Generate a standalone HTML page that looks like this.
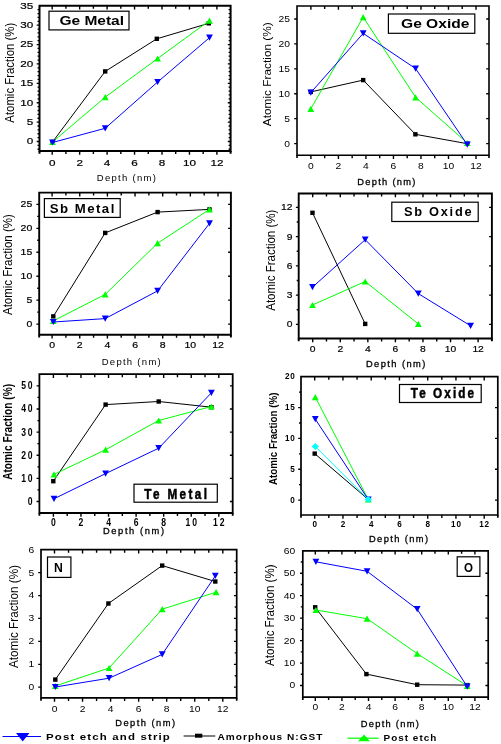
<!DOCTYPE html>
<html><head><meta charset="utf-8"><style>
html,body{margin:0;padding:0;background:#fff;}
body{width:501px;height:744px;overflow:hidden;}
svg{display:block;filter:blur(0.35px);}
text{font-family:"Liberation Sans",sans-serif;fill:#000;}
</style></head><body>
<svg width="501" height="744" viewBox="0 0 501 744">
<rect width="501" height="744" fill="#fff"/>
<path d="M39.5 5.8H230.6V151H39.5Z" fill="none" stroke="#000" stroke-width="2.0"/>
<path d="M39.5 151v2.8M230.6 151v2.8" stroke="#000" stroke-width="2.0"/>
<path d="M52.2 151v3.8 M52.2 5.8v3.8 M65.92 151v3.0 M65.92 5.8v3.0 M79.65 151v3.8 M79.65 5.8v3.8 M93.38 151v3.0 M93.38 5.8v3.0 M107.1 151v3.8 M107.1 5.8v3.8 M120.83 151v3.0 M120.83 5.8v3.0 M134.55 151v3.8 M134.55 5.8v3.8 M148.28 151v3.0 M148.28 5.8v3.0 M162 151v3.8 M162 5.8v3.8 M175.72 151v3.0 M175.72 5.8v3.0 M189.45 151v3.8 M189.45 5.8v3.8 M203.18 151v3.0 M203.18 5.8v3.0 M216.9 151v3.8 M216.9 5.8v3.8" stroke="#000" stroke-width="1.4"/>
<path d="M39.5 149.25h-2.0 M39.5 145.38h-2.0 M39.5 141.5h-2.8 M39.5 137.62h-2.0 M39.5 133.75h-2.0 M39.5 129.87h-2.0 M39.5 125.99h-2.0 M39.5 122.11h-2.8 M39.5 118.24h-2.0 M39.5 114.36h-2.0 M39.5 110.48h-2.0 M39.5 106.61h-2.0 M39.5 102.73h-2.8 M39.5 98.85h-2.0 M39.5 94.97h-2.0 M39.5 91.1h-2.0 M39.5 87.22h-2.0 M39.5 83.34h-2.8 M39.5 79.47h-2.0 M39.5 75.59h-2.0 M39.5 71.71h-2.0 M39.5 67.83h-2.0 M39.5 63.96h-2.8 M39.5 60.08h-2.0 M39.5 56.2h-2.0 M39.5 52.33h-2.0 M39.5 48.45h-2.0 M39.5 44.57h-2.8 M39.5 40.69h-2.0 M39.5 36.82h-2.0 M39.5 32.94h-2.0 M39.5 29.06h-2.0 M39.5 25.19h-2.8 M39.5 21.31h-2.0 M39.5 17.43h-2.0 M39.5 13.55h-2.0 M39.5 9.68h-2.0 M230.6 149.25h-2.0 M230.6 145.38h-2.0 M230.6 141.5h-2.8 M230.6 137.62h-2.0 M230.6 133.75h-2.0 M230.6 129.87h-2.0 M230.6 125.99h-2.0 M230.6 122.11h-2.8 M230.6 118.24h-2.0 M230.6 114.36h-2.0 M230.6 110.48h-2.0 M230.6 106.61h-2.0 M230.6 102.73h-2.8 M230.6 98.85h-2.0 M230.6 94.97h-2.0 M230.6 91.1h-2.0 M230.6 87.22h-2.0 M230.6 83.34h-2.8 M230.6 79.47h-2.0 M230.6 75.59h-2.0 M230.6 71.71h-2.0 M230.6 67.83h-2.0 M230.6 63.96h-2.8 M230.6 60.08h-2.0 M230.6 56.2h-2.0 M230.6 52.33h-2.0 M230.6 48.45h-2.0 M230.6 44.57h-2.8 M230.6 40.69h-2.0 M230.6 36.82h-2.0 M230.6 32.94h-2.0 M230.6 29.06h-2.0 M230.6 25.19h-2.8 M230.6 21.31h-2.0 M230.6 17.43h-2.0 M230.6 13.55h-2.0 M230.6 9.68h-2.0" stroke="#000" stroke-width="1.3"/>
<text transform="translate(33.3 144.4) scale(1.22 1)" text-anchor="end" style="font-size:9.6px;font-weight:normal;stroke:#000;stroke-width:0.2px;">0</text>
<text transform="translate(33.3 125.01) scale(1.22 1)" text-anchor="end" style="font-size:9.6px;font-weight:normal;stroke:#000;stroke-width:0.2px;">5</text>
<text transform="translate(33.3 105.63) scale(1.22 1)" text-anchor="end" style="font-size:9.6px;font-weight:normal;stroke:#000;stroke-width:0.2px;">10</text>
<text transform="translate(33.3 86.24) scale(1.22 1)" text-anchor="end" style="font-size:9.6px;font-weight:normal;stroke:#000;stroke-width:0.2px;">15</text>
<text transform="translate(33.3 66.86) scale(1.22 1)" text-anchor="end" style="font-size:9.6px;font-weight:normal;stroke:#000;stroke-width:0.2px;">20</text>
<text transform="translate(33.3 47.47) scale(1.22 1)" text-anchor="end" style="font-size:9.6px;font-weight:normal;stroke:#000;stroke-width:0.2px;">25</text>
<text transform="translate(33.3 28.09) scale(1.22 1)" text-anchor="end" style="font-size:9.6px;font-weight:normal;stroke:#000;stroke-width:0.2px;">30</text>
<text transform="translate(33.3 8.7) scale(1.22 1)" text-anchor="end" style="font-size:9.6px;font-weight:normal;stroke:#000;stroke-width:0.2px;">35</text>
<text transform="translate(52.2 165.5) scale(1.22 1)" text-anchor="middle" style="font-size:9.6px;font-weight:normal;stroke:#000;stroke-width:0.2px;">0</text>
<text transform="translate(79.65 165.5) scale(1.22 1)" text-anchor="middle" style="font-size:9.6px;font-weight:normal;stroke:#000;stroke-width:0.2px;">2</text>
<text transform="translate(107.1 165.5) scale(1.22 1)" text-anchor="middle" style="font-size:9.6px;font-weight:normal;stroke:#000;stroke-width:0.2px;">4</text>
<text transform="translate(134.55 165.5) scale(1.22 1)" text-anchor="middle" style="font-size:9.6px;font-weight:normal;stroke:#000;stroke-width:0.2px;">6</text>
<text transform="translate(162 165.5) scale(1.22 1)" text-anchor="middle" style="font-size:9.6px;font-weight:normal;stroke:#000;stroke-width:0.2px;">8</text>
<text transform="translate(189.45 165.5) scale(1.22 1)" text-anchor="middle" style="font-size:9.6px;font-weight:normal;stroke:#000;stroke-width:0.2px;">10</text>
<text transform="translate(216.9 165.5) scale(1.22 1)" text-anchor="middle" style="font-size:9.6px;font-weight:normal;stroke:#000;stroke-width:0.2px;">12</text>
<text transform="translate(10.2 72.75) rotate(-90)" x="0" y="3.6" text-anchor="middle" textLength="99.9" lengthAdjust="spacingAndGlyphs" style="font-size:12px;font-weight:normal">Atomic Fraction (%)</text>
<text x="126.3" y="181.2" text-anchor="middle" textLength="59" lengthAdjust="spacing" style="font-size:9.5px;font-weight:normal">Depth (nm)</text>
<path d="M52.5 142 L105.2 71.4 L156.8 38.8 L208.8 23.3" fill="none" stroke="#000" stroke-width="1.0"/>
<rect x="50.3" y="139.8" width="4.4" height="4.4" fill="#000"/>
<rect x="103" y="69.2" width="4.4" height="4.4" fill="#000"/>
<rect x="154.6" y="36.6" width="4.4" height="4.4" fill="#000"/>
<rect x="206.6" y="21.1" width="4.4" height="4.4" fill="#000"/>
<path d="M52.5 142 L105.2 97.2 L157.6 58.5 L209.5 20.6" fill="none" stroke="#00ff00" stroke-width="1.0"/>
<path d="M49.1 145.1L55.9 145.1L52.5 138.9Z" fill="#00ff00"/>
<path d="M101.8 100.3L108.6 100.3L105.2 94.1Z" fill="#00ff00"/>
<path d="M154.2 61.6L161 61.6L157.6 55.4Z" fill="#00ff00"/>
<path d="M206.1 23.7L212.9 23.7L209.5 17.5Z" fill="#00ff00"/>
<path d="M52.5 142.5 L105.2 128.3 L157.6 82 L209.5 37.7" fill="none" stroke="#0000ff" stroke-width="1.0"/>
<path d="M49.1 139.4L55.9 139.4L52.5 145.6Z" fill="#0000ff"/>
<path d="M101.8 125.2L108.6 125.2L105.2 131.4Z" fill="#0000ff"/>
<path d="M154.2 78.9L161 78.9L157.6 85.1Z" fill="#0000ff"/>
<path d="M206.1 34.6L212.9 34.6L209.5 40.8Z" fill="#0000ff"/>
<rect x="49" y="11.2" width="80" height="18.7" fill="#fff" stroke="#000" stroke-width="1.2"/>
<text transform="translate(91.7 25.4) scale(1 1)" text-anchor="middle" textLength="64.6" lengthAdjust="spacingAndGlyphs" style="font-size:13px;font-weight:bold;">Ge Metal</text>
<path d="M297 6H489V155.3H297Z" fill="none" stroke="#000" stroke-width="1.6"/>
<path d="M297 155.3v2.8M489 155.3v2.8" stroke="#000" stroke-width="1.6"/>
<path d="M310.9 155.3v3.8 M310.9 6v3.8 M324.66 155.3v3.0 M324.66 6v3.0 M338.42 155.3v3.8 M338.42 6v3.8 M352.17 155.3v3.0 M352.17 6v3.0 M365.93 155.3v3.8 M365.93 6v3.8 M379.69 155.3v3.0 M379.69 6v3.0 M393.45 155.3v3.8 M393.45 6v3.8 M407.21 155.3v3.0 M407.21 6v3.0 M420.97 155.3v3.8 M420.97 6v3.8 M434.73 155.3v3.0 M434.73 6v3.0 M448.48 155.3v3.8 M448.48 6v3.8 M462.24 155.3v3.0 M462.24 6v3.0 M476 155.3v3.8 M476 6v3.8" stroke="#000" stroke-width="1.4"/>
<path d="M297 143.6h-2.8 M297 118.68h-2.8 M297 93.76h-2.8 M297 68.84h-2.8 M297 43.92h-2.8 M297 19h-2.8 M489 143.6h-2.8 M489 118.68h-2.8 M489 93.76h-2.8 M489 68.84h-2.8 M489 43.92h-2.8 M489 19h-2.8" stroke="#000" stroke-width="1.3"/>
<text transform="translate(290 146.5) scale(1.12 1)" text-anchor="end" style="font-size:9.2px;font-weight:normal;">0</text>
<text transform="translate(290 121.58) scale(1.12 1)" text-anchor="end" style="font-size:9.2px;font-weight:normal;">5</text>
<text transform="translate(290 96.66) scale(1.12 1)" text-anchor="end" style="font-size:9.2px;font-weight:normal;">10</text>
<text transform="translate(290 71.74) scale(1.12 1)" text-anchor="end" style="font-size:9.2px;font-weight:normal;">15</text>
<text transform="translate(290 46.82) scale(1.12 1)" text-anchor="end" style="font-size:9.2px;font-weight:normal;">20</text>
<text transform="translate(290 21.9) scale(1.12 1)" text-anchor="end" style="font-size:9.2px;font-weight:normal;">25</text>
<text transform="translate(310.9 169) scale(1.12 1)" text-anchor="middle" style="font-size:9.2px;font-weight:normal;">0</text>
<text transform="translate(338.42 169) scale(1.12 1)" text-anchor="middle" style="font-size:9.2px;font-weight:normal;">2</text>
<text transform="translate(365.93 169) scale(1.12 1)" text-anchor="middle" style="font-size:9.2px;font-weight:normal;">4</text>
<text transform="translate(393.45 169) scale(1.12 1)" text-anchor="middle" style="font-size:9.2px;font-weight:normal;">6</text>
<text transform="translate(420.97 169) scale(1.12 1)" text-anchor="middle" style="font-size:9.2px;font-weight:normal;">8</text>
<text transform="translate(448.48 169) scale(1.12 1)" text-anchor="middle" style="font-size:9.2px;font-weight:normal;">10</text>
<text transform="translate(476 169) scale(1.12 1)" text-anchor="middle" style="font-size:9.2px;font-weight:normal;">12</text>
<text transform="translate(267.2 74.2) rotate(-90)" x="0" y="3.39" text-anchor="middle" textLength="104" lengthAdjust="spacingAndGlyphs" style="font-size:11.3px;font-weight:normal">Atomic Fraction (%)</text>
<text x="386.3" y="184.5" text-anchor="middle" textLength="58.3" lengthAdjust="spacing" style="font-size:9.3px;font-weight:normal;stroke:#000;stroke-width:0.3px">Depth (nm)</text>
<path d="M310.8 91.9 L363.2 80.1 L415.4 134.3 L467.3 143.7" fill="none" stroke="#000" stroke-width="1.0"/>
<rect x="308.6" y="89.7" width="4.4" height="4.4" fill="#000"/>
<rect x="361" y="77.9" width="4.4" height="4.4" fill="#000"/>
<rect x="413.2" y="132.1" width="4.4" height="4.4" fill="#000"/>
<rect x="465.1" y="141.5" width="4.4" height="4.4" fill="#000"/>
<path d="M310.8 108.8 L363.2 17.2 L415.6 97.3 L467.3 143" fill="none" stroke="#00ff00" stroke-width="1.0"/>
<path d="M307.4 111.9L314.2 111.9L310.8 105.7Z" fill="#00ff00"/>
<path d="M359.8 20.3L366.6 20.3L363.2 14.1Z" fill="#00ff00"/>
<path d="M412.2 100.4L419 100.4L415.6 94.2Z" fill="#00ff00"/>
<path d="M463.9 146.1L470.7 146.1L467.3 139.9Z" fill="#00ff00"/>
<path d="M310.8 92.6 L363.2 33.4 L415.6 68.6 L467.3 144.7" fill="none" stroke="#0000ff" stroke-width="1.0"/>
<path d="M307.4 89.5L314.2 89.5L310.8 95.7Z" fill="#0000ff"/>
<path d="M359.8 30.3L366.6 30.3L363.2 36.5Z" fill="#0000ff"/>
<path d="M412.2 65.5L419 65.5L415.6 71.7Z" fill="#0000ff"/>
<path d="M463.9 141.6L470.7 141.6L467.3 147.8Z" fill="#0000ff"/>
<rect x="388.4" y="14" width="86.4" height="19.3" fill="#fff" stroke="#000" stroke-width="1.2"/>
<text transform="translate(435.2 28) scale(1 1)" text-anchor="middle" textLength="68.4" lengthAdjust="spacingAndGlyphs" style="font-size:13px;font-weight:bold;">Ge Oxide</text>
<path d="M39.2 192.6H230.9V334.8H39.2Z" fill="none" stroke="#000" stroke-width="1.9"/>
<path d="M39.2 334.8v2.8M230.9 334.8v2.8" stroke="#000" stroke-width="1.9"/>
<path d="M52.1 334.8v3.8 M52.1 192.6v3.8 M65.92 334.8v3.0 M65.92 192.6v3.0 M79.75 334.8v3.8 M79.75 192.6v3.8 M93.58 334.8v3.0 M93.58 192.6v3.0 M107.4 334.8v3.8 M107.4 192.6v3.8 M121.22 334.8v3.0 M121.22 192.6v3.0 M135.05 334.8v3.8 M135.05 192.6v3.8 M148.88 334.8v3.0 M148.88 192.6v3.0 M162.7 334.8v3.8 M162.7 192.6v3.8 M176.53 334.8v3.0 M176.53 192.6v3.0 M190.35 334.8v3.8 M190.35 192.6v3.8 M204.18 334.8v3.0 M204.18 192.6v3.0 M218 334.8v3.8 M218 192.6v3.8" stroke="#000" stroke-width="1.4"/>
<path d="M39.2 324.2h-2.8 M39.2 312.21h-2.0 M39.2 300.22h-2.8 M39.2 288.23h-2.0 M39.2 276.24h-2.8 M39.2 264.25h-2.0 M39.2 252.26h-2.8 M39.2 240.27h-2.0 M39.2 228.28h-2.8 M39.2 216.29h-2.0 M39.2 204.3h-2.8 M230.9 324.2h-2.8 M230.9 300.22h-2.8 M230.9 276.24h-2.8 M230.9 252.26h-2.8 M230.9 228.28h-2.8 M230.9 204.3h-2.8" stroke="#000" stroke-width="1.3"/>
<text transform="translate(32.3 327.1) scale(1.12 1)" text-anchor="end" style="font-size:9.4px;font-weight:normal;stroke:#000;stroke-width:0.2px;">0</text>
<text transform="translate(32.3 303.12) scale(1.12 1)" text-anchor="end" style="font-size:9.4px;font-weight:normal;stroke:#000;stroke-width:0.2px;">5</text>
<text transform="translate(32.3 279.14) scale(1.12 1)" text-anchor="end" style="font-size:9.4px;font-weight:normal;stroke:#000;stroke-width:0.2px;">10</text>
<text transform="translate(32.3 255.16) scale(1.12 1)" text-anchor="end" style="font-size:9.4px;font-weight:normal;stroke:#000;stroke-width:0.2px;">15</text>
<text transform="translate(32.3 231.18) scale(1.12 1)" text-anchor="end" style="font-size:9.4px;font-weight:normal;stroke:#000;stroke-width:0.2px;">20</text>
<text transform="translate(32.3 207.2) scale(1.12 1)" text-anchor="end" style="font-size:9.4px;font-weight:normal;stroke:#000;stroke-width:0.2px;">25</text>
<text transform="translate(52.1 348.3) scale(1.12 1)" text-anchor="middle" style="font-size:9.4px;font-weight:normal;stroke:#000;stroke-width:0.2px;">0</text>
<text transform="translate(79.75 348.3) scale(1.12 1)" text-anchor="middle" style="font-size:9.4px;font-weight:normal;stroke:#000;stroke-width:0.2px;">2</text>
<text transform="translate(107.4 348.3) scale(1.12 1)" text-anchor="middle" style="font-size:9.4px;font-weight:normal;stroke:#000;stroke-width:0.2px;">4</text>
<text transform="translate(135.05 348.3) scale(1.12 1)" text-anchor="middle" style="font-size:9.4px;font-weight:normal;stroke:#000;stroke-width:0.2px;">6</text>
<text transform="translate(162.7 348.3) scale(1.12 1)" text-anchor="middle" style="font-size:9.4px;font-weight:normal;stroke:#000;stroke-width:0.2px;">8</text>
<text transform="translate(190.35 348.3) scale(1.12 1)" text-anchor="middle" style="font-size:9.4px;font-weight:normal;stroke:#000;stroke-width:0.2px;">10</text>
<text transform="translate(218 348.3) scale(1.12 1)" text-anchor="middle" style="font-size:9.4px;font-weight:normal;stroke:#000;stroke-width:0.2px;">12</text>
<text transform="translate(8.7 264.6) rotate(-90)" x="0" y="3.6" text-anchor="middle" textLength="100.8" lengthAdjust="spacingAndGlyphs" style="font-size:12px;font-weight:normal">Atomic Fraction (%)</text>
<text x="131.2" y="364.8" text-anchor="middle" textLength="59.1" lengthAdjust="spacing" style="font-size:9.5px;font-weight:normal">Depth (nm)</text>
<path d="M53.3 316.4 L105.2 232.9 L157.6 212.1 L209.5 209.4" fill="none" stroke="#000" stroke-width="1.0"/>
<rect x="51.1" y="314.2" width="4.4" height="4.4" fill="#000"/>
<rect x="103" y="230.7" width="4.4" height="4.4" fill="#000"/>
<rect x="155.4" y="209.9" width="4.4" height="4.4" fill="#000"/>
<rect x="207.3" y="207.2" width="4.4" height="4.4" fill="#000"/>
<path d="M53.3 320.9 L105.2 294.4 L157.6 243.2 L209.5 209.4" fill="none" stroke="#00ff00" stroke-width="1.0"/>
<path d="M49.9 324L56.7 324L53.3 317.8Z" fill="#00ff00"/>
<path d="M101.8 297.5L108.6 297.5L105.2 291.3Z" fill="#00ff00"/>
<path d="M154.2 246.3L161 246.3L157.6 240.1Z" fill="#00ff00"/>
<path d="M206.1 212.5L212.9 212.5L209.5 206.3Z" fill="#00ff00"/>
<path d="M53.3 322 L105.2 318.6 L157.6 290.9 L209.5 223.4" fill="none" stroke="#0000ff" stroke-width="1.0"/>
<path d="M49.9 318.9L56.7 318.9L53.3 325.1Z" fill="#0000ff"/>
<path d="M101.8 315.5L108.6 315.5L105.2 321.7Z" fill="#0000ff"/>
<path d="M154.2 287.8L161 287.8L157.6 294Z" fill="#0000ff"/>
<path d="M206.1 220.3L212.9 220.3L209.5 226.5Z" fill="#0000ff"/>
<rect x="44.4" y="198.6" width="75.8" height="18.8" fill="#fff" stroke="#000" stroke-width="1.2"/>
<text transform="translate(82.1 212.6) scale(1 1)" text-anchor="middle" textLength="64.5" lengthAdjust="spacing" style="font-size:13.2px;font-weight:bold;">Sb Metal</text>
<path d="M298.7 193.5H491.9V338.5H298.7Z" fill="none" stroke="#000" stroke-width="1.9"/>
<path d="M298.7 338.5v2.8M491.9 338.5v2.8" stroke="#000" stroke-width="1.9"/>
<path d="M312.7 338.5v3.8 M312.7 193.5v3.8 M326.48 338.5v3.0 M326.48 193.5v3.0 M340.27 338.5v3.8 M340.27 193.5v3.8 M354.05 338.5v3.0 M354.05 193.5v3.0 M367.83 338.5v3.8 M367.83 193.5v3.8 M381.62 338.5v3.0 M381.62 193.5v3.0 M395.4 338.5v3.8 M395.4 193.5v3.8 M409.18 338.5v3.0 M409.18 193.5v3.0 M422.97 338.5v3.8 M422.97 193.5v3.8 M436.75 338.5v3.0 M436.75 193.5v3.0 M450.53 338.5v3.8 M450.53 193.5v3.8 M464.32 338.5v3.0 M464.32 193.5v3.0 M478.1 338.5v3.8 M478.1 193.5v3.8" stroke="#000" stroke-width="1.4"/>
<path d="M298.7 324.4h-2.8 M298.7 309.77h-2.0 M298.7 295.15h-2.8 M298.7 280.52h-2.0 M298.7 265.9h-2.8 M298.7 251.27h-2.0 M298.7 236.65h-2.8 M298.7 222.02h-2.0 M298.7 207.4h-2.8 M491.9 324.4h-2.8 M491.9 295.15h-2.8 M491.9 265.9h-2.8 M491.9 236.65h-2.8 M491.9 207.4h-2.8" stroke="#000" stroke-width="1.3"/>
<text transform="translate(292.5 327.3) scale(1.12 1)" text-anchor="end" style="font-size:9.2px;font-weight:normal;stroke:#000;stroke-width:0.2px;">0</text>
<text transform="translate(292.5 298.05) scale(1.12 1)" text-anchor="end" style="font-size:9.2px;font-weight:normal;stroke:#000;stroke-width:0.2px;">3</text>
<text transform="translate(292.5 268.8) scale(1.12 1)" text-anchor="end" style="font-size:9.2px;font-weight:normal;stroke:#000;stroke-width:0.2px;">6</text>
<text transform="translate(292.5 239.55) scale(1.12 1)" text-anchor="end" style="font-size:9.2px;font-weight:normal;stroke:#000;stroke-width:0.2px;">9</text>
<text transform="translate(292.5 210.3) scale(1.12 1)" text-anchor="end" style="font-size:9.2px;font-weight:normal;stroke:#000;stroke-width:0.2px;">12</text>
<text transform="translate(312.7 351.8) scale(1.12 1)" text-anchor="middle" style="font-size:9.2px;font-weight:normal;stroke:#000;stroke-width:0.2px;">0</text>
<text transform="translate(340.27 351.8) scale(1.12 1)" text-anchor="middle" style="font-size:9.2px;font-weight:normal;stroke:#000;stroke-width:0.2px;">2</text>
<text transform="translate(367.83 351.8) scale(1.12 1)" text-anchor="middle" style="font-size:9.2px;font-weight:normal;stroke:#000;stroke-width:0.2px;">4</text>
<text transform="translate(395.4 351.8) scale(1.12 1)" text-anchor="middle" style="font-size:9.2px;font-weight:normal;stroke:#000;stroke-width:0.2px;">6</text>
<text transform="translate(422.97 351.8) scale(1.12 1)" text-anchor="middle" style="font-size:9.2px;font-weight:normal;stroke:#000;stroke-width:0.2px;">8</text>
<text transform="translate(450.53 351.8) scale(1.12 1)" text-anchor="middle" style="font-size:9.2px;font-weight:normal;stroke:#000;stroke-width:0.2px;">10</text>
<text transform="translate(478.1 351.8) scale(1.12 1)" text-anchor="middle" style="font-size:9.2px;font-weight:normal;stroke:#000;stroke-width:0.2px;">12</text>
<text transform="translate(271.5 260.2) rotate(-90)" x="0" y="3.6" text-anchor="middle" textLength="101.2" lengthAdjust="spacingAndGlyphs" style="font-size:12px;font-weight:normal">Atomic Fraction (%)</text>
<text x="395.6" y="366.7" text-anchor="middle" textLength="59.4" lengthAdjust="spacing" style="font-size:9.3px;font-weight:normal;stroke:#000;stroke-width:0.3px">Depth (nm)</text>
<path d="M312.5 212.8 L365.2 323.9" fill="none" stroke="#000" stroke-width="1.0"/>
<rect x="310.3" y="210.6" width="4.4" height="4.4" fill="#000"/>
<rect x="363" y="321.7" width="4.4" height="4.4" fill="#000"/>
<path d="M312.5 305 L365.2 281.5 L418.3 323.9" fill="none" stroke="#00ff00" stroke-width="1.0"/>
<path d="M309.1 308.1L315.9 308.1L312.5 301.9Z" fill="#00ff00"/>
<path d="M361.8 284.6L368.6 284.6L365.2 278.4Z" fill="#00ff00"/>
<path d="M414.9 327L421.7 327L418.3 320.8Z" fill="#00ff00"/>
<path d="M312.5 287.2 L365.2 239.7 L418.3 293.6 L470.6 325.8" fill="none" stroke="#0000ff" stroke-width="1.0"/>
<path d="M309.1 284.1L315.9 284.1L312.5 290.3Z" fill="#0000ff"/>
<path d="M361.8 236.6L368.6 236.6L365.2 242.8Z" fill="#0000ff"/>
<path d="M414.9 290.5L421.7 290.5L418.3 296.7Z" fill="#0000ff"/>
<path d="M467.2 322.7L474 322.7L470.6 328.9Z" fill="#0000ff"/>
<rect x="391.8" y="202.2" width="86.4" height="19.3" fill="#fff" stroke="#000" stroke-width="1.2"/>
<text transform="translate(437.8 216.2) scale(1 1)" text-anchor="middle" textLength="67.5" lengthAdjust="spacing" style="font-size:12.8px;font-weight:bold;">Sb Oxide</text>
<path d="M39.4 374.2H232.7V513H39.4Z" fill="none" stroke="#000" stroke-width="1.8"/>
<path d="M39.4 513v2.8M232.7 513v2.8" stroke="#000" stroke-width="1.8"/>
<path d="M53.4 513v3.8 M53.4 374.2v3.8 M67.18 513v3.0 M67.18 374.2v3.0 M80.97 513v3.8 M80.97 374.2v3.8 M94.75 513v3.0 M94.75 374.2v3.0 M108.53 513v3.8 M108.53 374.2v3.8 M122.32 513v3.0 M122.32 374.2v3.0 M136.1 513v3.8 M136.1 374.2v3.8 M149.88 513v3.0 M149.88 374.2v3.0 M163.67 513v3.8 M163.67 374.2v3.8 M177.45 513v3.0 M177.45 374.2v3.0 M191.23 513v3.8 M191.23 374.2v3.8 M205.02 513v3.0 M205.02 374.2v3.0 M218.8 513v3.8 M218.8 374.2v3.8" stroke="#000" stroke-width="1.4"/>
<path d="M39.4 501.5h-2.8 M39.4 489.94h-2.0 M39.4 478.38h-2.8 M39.4 466.82h-2.0 M39.4 455.26h-2.8 M39.4 443.7h-2.0 M39.4 432.14h-2.8 M39.4 420.58h-2.0 M39.4 409.02h-2.8 M39.4 397.46h-2.0 M39.4 385.9h-2.8 M232.7 501.5h-2.8 M232.7 478.38h-2.8 M232.7 455.26h-2.8 M232.7 432.14h-2.8 M232.7 409.02h-2.8 M232.7 385.9h-2.8" stroke="#000" stroke-width="1.3"/>
<text transform="translate(34.4 504.9) scale(0.82 1)" text-anchor="end" style="font-size:10.5px;font-weight:bold;letter-spacing:2.2px;">0</text>
<text transform="translate(34.4 481.78) scale(0.82 1)" text-anchor="end" style="font-size:10.5px;font-weight:bold;letter-spacing:2.2px;">10</text>
<text transform="translate(34.4 458.66) scale(0.82 1)" text-anchor="end" style="font-size:10.5px;font-weight:bold;letter-spacing:2.2px;">20</text>
<text transform="translate(34.4 435.54) scale(0.82 1)" text-anchor="end" style="font-size:10.5px;font-weight:bold;letter-spacing:2.2px;">30</text>
<text transform="translate(34.4 412.42) scale(0.82 1)" text-anchor="end" style="font-size:10.5px;font-weight:bold;letter-spacing:2.2px;">40</text>
<text transform="translate(34.4 389.3) scale(0.82 1)" text-anchor="end" style="font-size:10.5px;font-weight:bold;letter-spacing:2.2px;">50</text>
<text transform="translate(54.3 525.5) scale(0.82 1)" text-anchor="middle" style="font-size:10.5px;font-weight:bold;letter-spacing:2.2px;">0</text>
<text transform="translate(81.87 525.5) scale(0.82 1)" text-anchor="middle" style="font-size:10.5px;font-weight:bold;letter-spacing:2.2px;">2</text>
<text transform="translate(109.44 525.5) scale(0.82 1)" text-anchor="middle" style="font-size:10.5px;font-weight:bold;letter-spacing:2.2px;">4</text>
<text transform="translate(137 525.5) scale(0.82 1)" text-anchor="middle" style="font-size:10.5px;font-weight:bold;letter-spacing:2.2px;">6</text>
<text transform="translate(164.57 525.5) scale(0.82 1)" text-anchor="middle" style="font-size:10.5px;font-weight:bold;letter-spacing:2.2px;">8</text>
<text transform="translate(192.14 525.5) scale(0.82 1)" text-anchor="middle" style="font-size:10.5px;font-weight:bold;letter-spacing:2.2px;">10</text>
<text transform="translate(219.7 525.5) scale(0.82 1)" text-anchor="middle" style="font-size:10.5px;font-weight:bold;letter-spacing:2.2px;">12</text>
<text transform="translate(7.9 431.9) rotate(-90)" x="0" y="3.6" text-anchor="middle" textLength="95.9" lengthAdjust="spacingAndGlyphs" style="font-size:12px;font-weight:bold">Atomic Fraction (%)</text>
<text x="133.5" y="534.4" text-anchor="middle" textLength="61" lengthAdjust="spacing" style="font-size:9.3px;font-weight:normal;stroke:#000;stroke-width:0.3px">Depth (nm)</text>
<path d="M53.3 481.2 L105.6 404.6 L158.7 401.5 L211.4 407.2" fill="none" stroke="#000" stroke-width="1.0"/>
<rect x="51.1" y="479" width="4.4" height="4.4" fill="#000"/>
<rect x="103.4" y="402.4" width="4.4" height="4.4" fill="#000"/>
<rect x="156.5" y="399.3" width="4.4" height="4.4" fill="#000"/>
<rect x="209.2" y="405" width="4.4" height="4.4" fill="#000"/>
<path d="M54 474.4 L105.6 449.7 L158.7 420.5 L211.4 406.5" fill="none" stroke="#00ff00" stroke-width="1.0"/>
<path d="M50.6 477.5L57.4 477.5L54 471.3Z" fill="#00ff00"/>
<path d="M102.2 452.8L109 452.8L105.6 446.6Z" fill="#00ff00"/>
<path d="M155.3 423.6L162.1 423.6L158.7 417.4Z" fill="#00ff00"/>
<path d="M208 409.6L214.8 409.6L211.4 403.4Z" fill="#00ff00"/>
<path d="M54 498.8 L105.6 473.6 L158.7 448.2 L211.4 392.8" fill="none" stroke="#0000ff" stroke-width="1.0"/>
<path d="M50.6 495.7L57.4 495.7L54 501.9Z" fill="#0000ff"/>
<path d="M102.2 470.5L109 470.5L105.6 476.7Z" fill="#0000ff"/>
<path d="M155.3 445.1L162.1 445.1L158.7 451.3Z" fill="#0000ff"/>
<path d="M208 389.7L214.8 389.7L211.4 395.9Z" fill="#0000ff"/>
<rect x="134" y="484.2" width="83.3" height="18" fill="#fff" stroke="#000" stroke-width="1.2"/>
<text transform="translate(175.6 499.2) scale(0.84 1)" text-anchor="middle" textLength="74.52" lengthAdjust="spacing" style="font-size:14px;font-weight:bold;stroke:#000;stroke-width:0.5px">Te Metal</text>
<path d="M301 376.7H497.8V515H301Z" fill="none" stroke="#000" stroke-width="1.7"/>
<path d="M301 515v2.8M497.8 515v2.8" stroke="#000" stroke-width="1.7"/>
<path d="M314.7 515v3.8 M314.7 376.7v3.8 M328.82 515v3.0 M328.82 376.7v3.0 M342.95 515v3.8 M342.95 376.7v3.8 M357.07 515v3.0 M357.07 376.7v3.0 M371.2 515v3.8 M371.2 376.7v3.8 M385.32 515v3.0 M385.32 376.7v3.0 M399.45 515v3.8 M399.45 376.7v3.8 M413.57 515v3.0 M413.57 376.7v3.0 M427.7 515v3.8 M427.7 376.7v3.8 M441.82 515v3.0 M441.82 376.7v3.0 M455.95 515v3.8 M455.95 376.7v3.8 M470.07 515v3.0 M470.07 376.7v3.0 M484.2 515v3.8 M484.2 376.7v3.8" stroke="#000" stroke-width="1.4"/>
<path d="M301 500.1h-2.8 M301 484.68h-2.0 M301 469.25h-2.8 M301 453.82h-2.0 M301 438.4h-2.8 M301 422.98h-2.0 M301 407.55h-2.8 M301 392.12h-2.0 M497.8 500.1h-2.8 M497.8 469.25h-2.8 M497.8 438.4h-2.8 M497.8 407.55h-2.8" stroke="#000" stroke-width="1.3"/>
<text transform="translate(295.65 502.5) scale(0.85 1)" text-anchor="end" style="font-size:9.6px;font-weight:bold;letter-spacing:1px;">0</text>
<text transform="translate(295.65 471.65) scale(0.85 1)" text-anchor="end" style="font-size:9.6px;font-weight:bold;letter-spacing:1px;">5</text>
<text transform="translate(295.65 440.8) scale(0.85 1)" text-anchor="end" style="font-size:9.6px;font-weight:bold;letter-spacing:1px;">10</text>
<text transform="translate(295.65 409.95) scale(0.85 1)" text-anchor="end" style="font-size:9.6px;font-weight:bold;letter-spacing:1px;">15</text>
<text transform="translate(295.65 379.1) scale(0.85 1)" text-anchor="end" style="font-size:9.6px;font-weight:bold;letter-spacing:1px;">20</text>
<text transform="translate(315.12 527) scale(0.85 1)" text-anchor="middle" style="font-size:9.6px;font-weight:bold;letter-spacing:1px;">0</text>
<text transform="translate(343.38 527) scale(0.85 1)" text-anchor="middle" style="font-size:9.6px;font-weight:bold;letter-spacing:1px;">2</text>
<text transform="translate(371.62 527) scale(0.85 1)" text-anchor="middle" style="font-size:9.6px;font-weight:bold;letter-spacing:1px;">4</text>
<text transform="translate(399.88 527) scale(0.85 1)" text-anchor="middle" style="font-size:9.6px;font-weight:bold;letter-spacing:1px;">6</text>
<text transform="translate(428.12 527) scale(0.85 1)" text-anchor="middle" style="font-size:9.6px;font-weight:bold;letter-spacing:1px;">8</text>
<text transform="translate(456.38 527) scale(0.85 1)" text-anchor="middle" style="font-size:9.6px;font-weight:bold;letter-spacing:1px;">10</text>
<text transform="translate(484.62 527) scale(0.85 1)" text-anchor="middle" style="font-size:9.6px;font-weight:bold;letter-spacing:1px;">12</text>
<text transform="translate(273.6 438.8) rotate(-90)" x="0" y="3" text-anchor="middle" textLength="92.4" lengthAdjust="spacingAndGlyphs" style="font-size:10px;font-weight:bold">Atomic Fraction (%)</text>
<text x="398.5" y="541.5" text-anchor="middle" textLength="59" lengthAdjust="spacing" style="font-size:9.3px;font-weight:normal;stroke:#000;stroke-width:0.3px">Depth (nm)</text>
<path d="M314.7 453.6 L368.3 499.5" fill="none" stroke="#000" stroke-width="1.0"/>
<rect x="312.5" y="451.4" width="4.4" height="4.4" fill="#000"/>
<rect x="366.1" y="497.3" width="4.4" height="4.4" fill="#000"/>
<path d="M315.3 397.1 L368.3 499.5" fill="none" stroke="#00ff00" stroke-width="1.0"/>
<path d="M311.9 400.2L318.7 400.2L315.3 394Z" fill="#00ff00"/>
<path d="M364.9 502.6L371.7 502.6L368.3 496.4Z" fill="#00ff00"/>
<path d="M315.3 419.2 L368.3 499.5" fill="none" stroke="#0000ff" stroke-width="1.0"/>
<path d="M311.9 416.1L318.7 416.1L315.3 422.3Z" fill="#0000ff"/>
<path d="M364.9 496.4L371.7 496.4L368.3 502.6Z" fill="#0000ff"/>
<path d="M315.3 446.5 L368.3 499.5" fill="none" stroke="#00ffff" stroke-width="1.0"/>
<path d="M315.3 442.9L318.9 446.5L315.3 450.1L311.7 446.5Z" fill="#00ffff"/>
<path d="M368.3 495.9L371.9 499.5L368.3 503.1L364.7 499.5Z" fill="#00ffff"/>
<rect x="399.5" y="384.5" width="81.7" height="18" fill="#fff" stroke="#000" stroke-width="1.2"/>
<text transform="translate(442.4 398) scale(0.84 1)" text-anchor="middle" textLength="75.24" lengthAdjust="spacing" style="font-size:14px;font-weight:bold;stroke:#000;stroke-width:0.5px">Te Oxide</text>
<path d="M41 549.7H236.7V697.9H41Z" fill="none" stroke="#000" stroke-width="1.7"/>
<path d="M41 697.9v2.8M236.7 697.9v2.8" stroke="#000" stroke-width="1.7"/>
<path d="M54.5 697.9v3.8 M54.5 549.7v3.8 M68.53 697.9v3.0 M68.53 549.7v3.0 M82.55 697.9v3.8 M82.55 549.7v3.8 M96.58 697.9v3.0 M96.58 549.7v3.0 M110.6 697.9v3.8 M110.6 549.7v3.8 M124.62 697.9v3.0 M124.62 549.7v3.0 M138.65 697.9v3.8 M138.65 549.7v3.8 M152.68 697.9v3.0 M152.68 549.7v3.0 M166.7 697.9v3.8 M166.7 549.7v3.8 M180.73 697.9v3.0 M180.73 549.7v3.0 M194.75 697.9v3.8 M194.75 549.7v3.8 M208.78 697.9v3.0 M208.78 549.7v3.0 M222.8 697.9v3.8 M222.8 549.7v3.8" stroke="#000" stroke-width="1.4"/>
<path d="M41 687.2h-2.8 M41 664.28h-2.8 M41 641.37h-2.8 M41 618.45h-2.8 M41 595.53h-2.8 M41 572.62h-2.8 M236.7 687.2h-2.8 M236.7 675.74h-2.0 M236.7 664.28h-2.8 M236.7 652.83h-2.0 M236.7 641.37h-2.8 M236.7 629.91h-2.0 M236.7 618.45h-2.8 M236.7 606.99h-2.0 M236.7 595.53h-2.8 M236.7 584.08h-2.0 M236.7 572.62h-2.8 M236.7 561.16h-2.0" stroke="#000" stroke-width="1.3"/>
<text transform="translate(34.3 690.1) scale(1.12 1)" text-anchor="end" style="font-size:9.2px;font-weight:normal;">0</text>
<text transform="translate(34.3 667.18) scale(1.12 1)" text-anchor="end" style="font-size:9.2px;font-weight:normal;">1</text>
<text transform="translate(34.3 644.27) scale(1.12 1)" text-anchor="end" style="font-size:9.2px;font-weight:normal;">2</text>
<text transform="translate(34.3 621.35) scale(1.12 1)" text-anchor="end" style="font-size:9.2px;font-weight:normal;">3</text>
<text transform="translate(34.3 598.43) scale(1.12 1)" text-anchor="end" style="font-size:9.2px;font-weight:normal;">4</text>
<text transform="translate(34.3 575.52) scale(1.12 1)" text-anchor="end" style="font-size:9.2px;font-weight:normal;">5</text>
<text transform="translate(34.3 552.6) scale(1.12 1)" text-anchor="end" style="font-size:9.2px;font-weight:normal;">6</text>
<text transform="translate(54.5 712) scale(1.12 1)" text-anchor="middle" style="font-size:9.2px;font-weight:normal;">0</text>
<text transform="translate(82.55 712) scale(1.12 1)" text-anchor="middle" style="font-size:9.2px;font-weight:normal;">2</text>
<text transform="translate(110.6 712) scale(1.12 1)" text-anchor="middle" style="font-size:9.2px;font-weight:normal;">4</text>
<text transform="translate(138.65 712) scale(1.12 1)" text-anchor="middle" style="font-size:9.2px;font-weight:normal;">6</text>
<text transform="translate(166.7 712) scale(1.12 1)" text-anchor="middle" style="font-size:9.2px;font-weight:normal;">8</text>
<text transform="translate(194.75 712) scale(1.12 1)" text-anchor="middle" style="font-size:9.2px;font-weight:normal;">10</text>
<text transform="translate(222.8 712) scale(1.12 1)" text-anchor="middle" style="font-size:9.2px;font-weight:normal;">12</text>
<text transform="translate(14.6 616.5) rotate(-90)" x="0" y="3.6" text-anchor="middle" textLength="103" lengthAdjust="spacingAndGlyphs" style="font-size:12px;font-weight:normal">Atomic Fraction (%)</text>
<text x="145.1" y="725.9" text-anchor="middle" textLength="59.8" lengthAdjust="spacing" style="font-size:9.3px;font-weight:normal;stroke:#000;stroke-width:0.3px">Depth (nm)</text>
<path d="M55.3 679.6 L108.4 603.5 L162.2 565.6 L215.3 581.5" fill="none" stroke="#000" stroke-width="1.0"/>
<rect x="53.1" y="677.4" width="4.4" height="4.4" fill="#000"/>
<rect x="106.2" y="601.3" width="4.4" height="4.4" fill="#000"/>
<rect x="160" y="563.4" width="4.4" height="4.4" fill="#000"/>
<rect x="213.1" y="579.3" width="4.4" height="4.4" fill="#000"/>
<path d="M55.3 686 L109.1 668 L162.2 609.2 L216.1 592.2" fill="none" stroke="#00ff00" stroke-width="1.0"/>
<path d="M51.9 689.1L58.7 689.1L55.3 682.9Z" fill="#00ff00"/>
<path d="M105.7 671.1L112.5 671.1L109.1 664.9Z" fill="#00ff00"/>
<path d="M158.8 612.3L165.6 612.3L162.2 606.1Z" fill="#00ff00"/>
<path d="M212.7 595.3L219.5 595.3L216.1 589.1Z" fill="#00ff00"/>
<path d="M55.3 687 L109.1 678.2 L162.2 654.4 L215.3 575.9" fill="none" stroke="#0000ff" stroke-width="1.0"/>
<path d="M51.9 683.9L58.7 683.9L55.3 690.1Z" fill="#0000ff"/>
<path d="M105.7 675.1L112.5 675.1L109.1 681.3Z" fill="#0000ff"/>
<path d="M158.8 651.3L165.6 651.3L162.2 657.5Z" fill="#0000ff"/>
<path d="M211.9 572.8L218.7 572.8L215.3 579Z" fill="#0000ff"/>
<rect x="24" y="540" width="13" height="6.9" fill="#fff"/>
<rect x="47.5" y="557" width="23.4" height="20.4" fill="#fff" stroke="#000" stroke-width="1.2"/>
<text transform="translate(58.4 572.4) scale(1 1)" text-anchor="middle" textLength="8.8" lengthAdjust="spacingAndGlyphs" style="font-size:13px;font-weight:bold;">N</text>
<path d="M302.8 550.8H488.2V697.1H302.8Z" fill="none" stroke="#000" stroke-width="1.7"/>
<path d="M302.8 697.1v2.8M488.2 697.1v2.8" stroke="#000" stroke-width="1.7"/>
<path d="M315.3 697.1v3.8 M315.3 550.8v3.8 M328.6 697.1v3.0 M328.6 550.8v3.0 M341.9 697.1v3.8 M341.9 550.8v3.8 M355.2 697.1v3.0 M355.2 550.8v3.0 M368.5 697.1v3.8 M368.5 550.8v3.8 M381.8 697.1v3.0 M381.8 550.8v3.0 M395.1 697.1v3.8 M395.1 550.8v3.8 M408.4 697.1v3.0 M408.4 550.8v3.0 M421.7 697.1v3.8 M421.7 550.8v3.8 M435 697.1v3.0 M435 550.8v3.0 M448.3 697.1v3.8 M448.3 550.8v3.8 M461.6 697.1v3.0 M461.6 550.8v3.0 M474.9 697.1v3.8 M474.9 550.8v3.8" stroke="#000" stroke-width="1.4"/>
<path d="M302.8 685.5h-2.8 M302.8 674.27h-2.0 M302.8 663.05h-2.8 M302.8 651.83h-2.0 M302.8 640.6h-2.8 M302.8 629.38h-2.0 M302.8 618.15h-2.8 M302.8 606.92h-2.0 M302.8 595.7h-2.8 M302.8 584.48h-2.0 M302.8 573.25h-2.8 M302.8 562.02h-2.0 M488.2 685.5h-2.8 M488.2 663.05h-2.8 M488.2 640.6h-2.8 M488.2 618.15h-2.8 M488.2 595.7h-2.8 M488.2 573.25h-2.8" stroke="#000" stroke-width="1.3"/>
<text transform="translate(295.3 688.4) scale(1.12 1)" text-anchor="end" style="font-size:9.2px;font-weight:normal;">0</text>
<text transform="translate(295.3 665.95) scale(1.12 1)" text-anchor="end" style="font-size:9.2px;font-weight:normal;">10</text>
<text transform="translate(295.3 643.5) scale(1.12 1)" text-anchor="end" style="font-size:9.2px;font-weight:normal;">20</text>
<text transform="translate(295.3 621.05) scale(1.12 1)" text-anchor="end" style="font-size:9.2px;font-weight:normal;">30</text>
<text transform="translate(295.3 598.6) scale(1.12 1)" text-anchor="end" style="font-size:9.2px;font-weight:normal;">40</text>
<text transform="translate(295.3 576.15) scale(1.12 1)" text-anchor="end" style="font-size:9.2px;font-weight:normal;">50</text>
<text transform="translate(295.3 553.7) scale(1.12 1)" text-anchor="end" style="font-size:9.2px;font-weight:normal;">60</text>
<text transform="translate(315.3 710) scale(1.12 1)" text-anchor="middle" style="font-size:9.2px;font-weight:normal;">0</text>
<text transform="translate(341.9 710) scale(1.12 1)" text-anchor="middle" style="font-size:9.2px;font-weight:normal;">2</text>
<text transform="translate(368.5 710) scale(1.12 1)" text-anchor="middle" style="font-size:9.2px;font-weight:normal;">4</text>
<text transform="translate(395.1 710) scale(1.12 1)" text-anchor="middle" style="font-size:9.2px;font-weight:normal;">6</text>
<text transform="translate(421.7 710) scale(1.12 1)" text-anchor="middle" style="font-size:9.2px;font-weight:normal;">8</text>
<text transform="translate(448.3 710) scale(1.12 1)" text-anchor="middle" style="font-size:9.2px;font-weight:normal;">10</text>
<text transform="translate(474.9 710) scale(1.12 1)" text-anchor="middle" style="font-size:9.2px;font-weight:normal;">12</text>
<text transform="translate(270.6 615.2) rotate(-90)" x="0" y="3.6" text-anchor="middle" textLength="101.4" lengthAdjust="spacingAndGlyphs" style="font-size:12px;font-weight:normal">Atomic Fraction (%)</text>
<text x="389.8" y="727" text-anchor="middle" textLength="58" lengthAdjust="spacing" style="font-size:9.3px;font-weight:normal;stroke:#000;stroke-width:0.3px">Depth (nm)</text>
<path d="M315.2 607.3 L366.4 674.1 L417.2 684.7 L467.2 685.1" fill="none" stroke="#000" stroke-width="1.0"/>
<rect x="313" y="605.1" width="4.4" height="4.4" fill="#000"/>
<rect x="364.2" y="671.9" width="4.4" height="4.4" fill="#000"/>
<rect x="415" y="682.5" width="4.4" height="4.4" fill="#000"/>
<rect x="465" y="682.9" width="4.4" height="4.4" fill="#000"/>
<path d="M315.9 610 L367.1 618.7 L417.2 653.6 L467.2 685.8" fill="none" stroke="#00ff00" stroke-width="1.0"/>
<path d="M312.5 613.1L319.3 613.1L315.9 606.9Z" fill="#00ff00"/>
<path d="M363.7 621.8L370.5 621.8L367.1 615.6Z" fill="#00ff00"/>
<path d="M413.8 656.7L420.6 656.7L417.2 650.5Z" fill="#00ff00"/>
<path d="M463.8 688.9L470.6 688.9L467.2 682.7Z" fill="#00ff00"/>
<path d="M315.9 561.8 L367.1 571.3 L417.2 609.2 L467.2 686.6" fill="none" stroke="#0000ff" stroke-width="1.0"/>
<path d="M312.5 558.7L319.3 558.7L315.9 564.9Z" fill="#0000ff"/>
<path d="M363.7 568.2L370.5 568.2L367.1 574.4Z" fill="#0000ff"/>
<path d="M413.8 606.1L420.6 606.1L417.2 612.3Z" fill="#0000ff"/>
<path d="M463.8 683.5L470.6 683.5L467.2 689.7Z" fill="#0000ff"/>
<rect x="457.2" y="556.8" width="22.7" height="19.6" fill="#fff" stroke="#000" stroke-width="1.2"/>
<text transform="translate(468.5 572.2) scale(1 1)" text-anchor="middle" textLength="9" lengthAdjust="spacingAndGlyphs" style="font-size:13px;font-weight:bold;">O</text>
<path d="M2.5 736.5H41" stroke="#0000ff" stroke-width="1.2"/>
<path d="M16 733L29.5 733L22.7 741.5Z" fill="#0000ff"/>
<text x="46" y="739.5" textLength="125" lengthAdjust="spacingAndGlyphs" style="font-size:9.8px;font-weight:bold;letter-spacing:1px">Post etch and strip</text>
<path d="M183.6 736H215.3" stroke="#000" stroke-width="1.2"/>
<rect x="195" y="733.7" width="7.3" height="4" fill="#000"/>
<text x="217.5" y="739.5" textLength="106" lengthAdjust="spacingAndGlyphs" style="font-size:9.8px;font-weight:bold;letter-spacing:1px">Amorphous N:GST</text>
<path d="M347.5 738.2H378.7" stroke="#00ff00" stroke-width="1.2"/>
<path d="M358 741.3L370 741.3L364 734.5Z" fill="#00ff00"/>
<text x="383.6" y="741" textLength="53.7" lengthAdjust="spacingAndGlyphs" style="font-size:9.8px;font-weight:bold;letter-spacing:1px">Post etch</text>
</svg>
</body></html>
